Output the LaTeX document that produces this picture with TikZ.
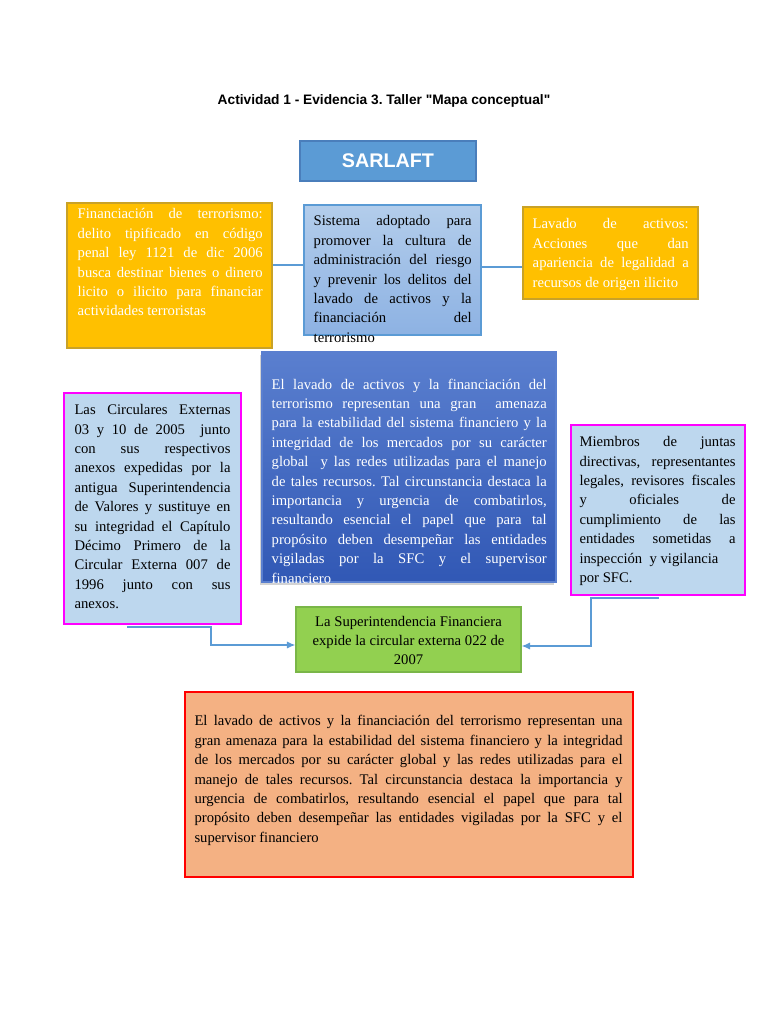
\documentclass[tikz,border=0pt]{standalone}
\usepackage{fontspec}
\setmainfont{Liberation Serif}
\newfontfamily\arialfont{Liberation Sans}
\usetikzlibrary{calc,fit,shadows,arrows.meta}
\frenchspacing

\definecolor{sarlfill}{HTML}{5B9BD5}
\definecolor{sarlline}{HTML}{4A7EBB}
\definecolor{orfill}{HTML}{FFC000}
\definecolor{orline}{HTML}{C9A227}
\definecolor{sistop}{HTML}{B3CDEB}
\definecolor{sisbot}{HTML}{8DB2E3}
\definecolor{amztop}{HTML}{5A7FCF}
\definecolor{amzbot}{HTML}{3158B5}
\definecolor{pinkline}{HTML}{FF00FF}
\definecolor{pinkfill}{HTML}{BDD7EE}
\definecolor{grfill}{HTML}{92D050}
\definecolor{grline}{HTML}{7AB648}
\definecolor{riesfill}{HTML}{F4B183}
\definecolor{linkblue}{HTML}{5B9BD5}

\newcommand\boxfont{\fontsize{11}{14.55}\selectfont\hyphenpenalty=10000\exhyphenpenalty=10000\tolerance=10000}

\begin{document}
\begin{tikzpicture}[x=0.75pt,y=-0.75pt,
  box/.style={draw, inner sep=0pt, line width=0.8pt},
  sarlbox/.style={box, draw=sarlline, fill=sarlfill},
  orbox/.style={box, draw=orline, fill=orfill},
  sisbox/.style={box, draw=sarlfill, top color=sistop, bottom color=sisbot},
  amzbox/.style={box, draw=amztop, top color=amztop, bottom color=amzbot,
    drop shadow={shadow xshift=-1.5pt, shadow yshift=-2pt, opacity=.35}},
  pinkbox/.style={box, line width=1.1pt, draw=pinkline, fill=pinkfill},
  grbox/.style={box, draw=grline, fill=grfill},
  riesbox/.style={box, line width=1.1pt, draw=red, fill=riesfill},
  txt/.style={anchor=north west, inner sep=0pt, align=justify, font=\boxfont},
  link/.style={draw=linkblue, line width=1.1pt},
  arr/.style={link, -{Latex[length=6.5pt, width=5.5pt]}}]
\useasboundingbox (0,0) rectangle (768,1024);

% title
\node[font=\arialfont\bfseries\fontsize{10.3}{12}\selectfont] (ttl) at (384,101)
  {Actividad 1 - Evidencia 3. Taller "Mapa conceptual"};

% boxes
\node[sarlbox, fit={(300,141) (476,181)}] (sarl) {};
\node[orbox, fit={(67,203) (272,348)}] (fin) {};
\node[sisbox, fit={(304,205) (481,335)}] (sis) {};
\node[orbox, fit={(523,207) (698,299)}] (lav) {};
\node[amzbox, fit={(262,352) (556,582)}] (amz) {};
\node[pinkbox, fit={(64,393) (241,624)}] (circ) {};
\node[pinkbox, fit={(571,425) (745,595)}] (mie) {};
\node[grbox, fit={(296,607) (521,672)}] (sfc) {};
\node[riesbox, fit={(185,692) (633,877)}] (ries) {};

% texts
\node[text=white, font=\arialfont\bfseries\fontsize{14.8}{16}\selectfont]
  (sarltx) at (sarl.center) {SARLAFT};
\node[align=center, inner sep=0pt, font=\boxfont] (sfctx) at ($(sfc.center)+(0,1)$)
  {La Superintendencia Financiera\\expide la circular externa 022 de\\2007};
\node[txt, text=white, text width=138.75pt] (fintx) at ($(fin.north west)+(11,6)$)
  {Financiación de terrorismo:\linebreak delito tipificado en código\linebreak
   penal ley 1121 de dic 2006\linebreak busca destinar bienes o dinero\linebreak
   licito o ilicito para financiar\linebreak actividades terroristas};
\node[txt, text width=118.5pt] (sistx) at ($(sis.north west)+(10,11)$)
  {Sistema adoptado para\linebreak promover la cultura de\linebreak
   administración del riesgo\linebreak y prevenir los delitos del\linebreak
   lavado de activos y la\linebreak financiación del\linebreak terrorismo};
\node[txt, text=white, text width=117pt] (lavtx) at ($(lav.north west)+(10,12)$)
  {Lavado de activos:\linebreak Acciones que dan\linebreak
   apariencia de legalidad a\linebreak recursos de origen ilicito};
\node[txt, text=white, text width=206.25pt] (amztx) at ($(amz.north west)+(10,27)$)
  {El lavado de activos y la financiación del\linebreak
   terrorismo representan una gran \ amenaza\linebreak
   para la estabilidad del sistema financiero y la\linebreak
   integridad de los mercados por su carácter\linebreak
   global \ y las redes utilizadas para el manejo\linebreak
   de tales recursos. Tal circunstancia destaca la\linebreak
   importancia y urgencia de combatirlos,\linebreak
   resultando esencial el papel que para tal\linebreak
   propósito deben desempeñar las entidades\linebreak
   vigiladas por la SFC y el supervisor\linebreak financiero};
\node[txt, text width=117pt] (circtx) at ($(circ.north west)+(11,12)$)
  {Las Circulares Externas\linebreak 03 y 10 de 2005 \ junto\linebreak
   con sus respectivos\linebreak anexos expedidas por la\linebreak
   antigua Superintendencia\linebreak de Valores y sustituye en\linebreak
   su integridad el Capítulo\linebreak Décimo Primero de la\linebreak
   Circular Externa 007 de\linebreak 1996 junto con sus\linebreak anexos.};
\node[txt, text width=117pt] (mietx) at ($(mie.north west)+(9,12)$)
  {Miembros de juntas\linebreak directivas, representantes\linebreak
   legales, revisores fiscales\linebreak y oficiales de\linebreak
   cumplimiento de las\linebreak entidades sometidas a\linebreak
   inspección \ y vigilancia\newline por SFC.};
\node[txt, text width=321pt] (riestx) at ($(ries.north west)+(10,24)$)
  {El lavado de activos y la financiación del terrorismo representan una\linebreak
   gran amenaza para la estabilidad del sistema financiero y la integridad\linebreak
   de los mercados por su carácter global y las redes utilizadas para el\linebreak
   manejo de tales recursos. Tal circunstancia destaca la importancia y\linebreak
   urgencia de combatirlos, resultando esencial el papel que para tal\linebreak
   propósito deben desempeñar las entidades vigiladas por la SFC y el\linebreak
   supervisor financiero};

% connectors
\coordinate (cl) at (127,627);
\coordinate (cr) at (659,598);
\draw[link] (fin.east |- 0,265) -- (sis.west |- 0,265);
\draw[link] (sis.east |- 0,267) -- (lav.west |- 0,267);
\draw[arr] (cl) -- (211,627) |- (sfc.west |- 0,645);
\draw[arr] (cr) -- (591,598) |- (sfc.east |- 0,646);
\end{tikzpicture}
\end{document}
